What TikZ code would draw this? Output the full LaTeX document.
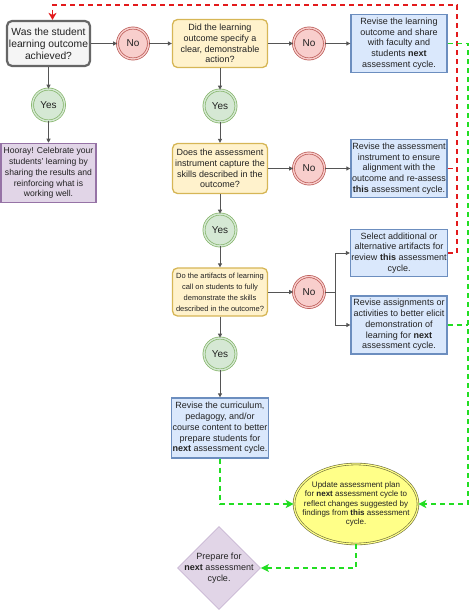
\documentclass[tikz,border=0pt]{standalone}
\usepackage{fontspec}
\setmainfont{Liberation Sans}
\usetikzlibrary{shapes.geometric,arrows.meta,calc}
\definecolor{grayF}{HTML}{F5F5F5}
\definecolor{grayS}{HTML}{666666}
\definecolor{redF}{HTML}{F8CECC}
\definecolor{redS}{HTML}{B85450}
\definecolor{yelF}{HTML}{FFF2CC}
\definecolor{yelS}{HTML}{D6B656}
\definecolor{grnF}{HTML}{D5E8D4}
\definecolor{grnS}{HTML}{82B366}
\definecolor{bluF}{HTML}{DAE8FC}
\definecolor{bluS}{HTML}{6C8EBF}
\definecolor{purF}{HTML}{E1D5E7}
\definecolor{purS}{HTML}{9673A6}
\definecolor{diaS}{HTML}{C8B6D4}
\definecolor{ellF}{HTML}{FFFF88}
\definecolor{ellS}{HTML}{6B6B3A}
\definecolor{conn}{HTML}{555555}
\definecolor{txtC}{HTML}{222222}
\definecolor{dashR}{HTML}{E31A1C}
\definecolor{dashG}{HTML}{22DD22}
\begin{document}
\begin{tikzpicture}[x=1pt,y=-1pt,
  txt/.style={align=center, inner sep=1pt, text=txtC, font=\fontsize{9}{10.8}\selectfont},
  graybox/.style={txt, rectangle, rounded corners=5pt, draw=grayS, fill=grayF, line width=2.2pt, minimum width=83pt, minimum height=45pt, font=\fontsize{10.3}{12}\selectfont},
  yelbox/.style={txt, rectangle, rounded corners=5pt, draw=yelS, fill=yelF, line width=1.3pt, minimum width=95pt, minimum height=48pt},
  blubox/.style={txt, rectangle, draw=bluS, fill=bluF, line width=1.3pt, minimum width=96pt},
  purbox/.style={txt, rectangle, draw=purS, fill=purF, line width=1.5pt, minimum width=95pt, minimum height=59pt, font=\fontsize{8.6}{10.8}\selectfont},
  nocirc/.style={circle, draw=redS, fill=redF, double=redF, double distance=1.4pt, line width=0.7pt, minimum size=31pt, inner sep=0pt, text=txtC, font=\fontsize{10}{12}\selectfont},
  yescirc/.style={circle, draw=grnS, fill=grnF, double=grnF, double distance=1.4pt, line width=0.7pt, minimum size=32pt, inner sep=0pt, text=txtC, font=\fontsize{10}{12}\selectfont},
  flow/.style={draw=conn, line width=0.9pt, -{Triangle[length=4pt,width=4pt]}},
  flowline/.style={draw=conn, line width=0.9pt},
  reddash/.style={draw=dashR, line width=1.6pt, dash pattern=on 5pt off 4pt},
  grndash/.style={draw=dashG, line width=1.6pt, dash pattern=on 5pt off 4pt},
  tipG/.style={-{Stealth[length=8pt,width=8pt,inset=2pt]}},
  tipR/.style={-{Stealth[length=7pt,width=8pt,inset=2pt]}}
]
\useasboundingbox (0,0) rectangle (474,612);

% first row
\node[graybox] (box1) at (48.5,43.5) {Was the student\\learning outcome\\achieved?};
\node[nocirc] (no1) at (133,43.5) {No};
\node[yelbox] (box2) at (220,43.5) {Did the learning\\outcome specify a\\clear, demonstrable\\action?};
\node[nocirc] (no2) at (309,43.5) {No};
\node[blubox, minimum height=58pt] (box3) at (399,43.5) {Revise the learning\\outcome and share\\with faculty and\\students \textbf{next}\\assessment cycle.};

% left column
\node[yescirc] (yes1) at (48.5,105) {Yes};
\node[purbox] (box4) at (48.5,173) {Hooray! Celebrate your\\students' learning by\\sharing the results and\\reinforcing what is\\working well.};

% middle column
\node[yescirc] (yes2) at (220,106) {Yes};
\node[yelbox, minimum height=50pt] (box5) at (220,168.5) {Does the assessment\\instrument capture the\\skills described in the\\outcome?};
\node[nocirc] (no3) at (309,168.5) {No};
\node[blubox, minimum height=58pt] (box6) at (399,168.5) {Revise the assessment\\instrument to ensure\\alignment with the\\outcome and re-assess\\\textbf{this} assessment cycle.};

\node[yescirc] (yes3) at (220,230) {Yes};
\node[yelbox, font=\fontsize{7.5}{11}\selectfont] (box7) at (220,292) {Do the artifacts of learning\\call on students to fully\\demonstrate the skills\\described in the outcome?};
\node[nocirc] (no4) at (309,292) {No};
\node[blubox, minimum height=47pt] (box8) at (399,253) {Select additional or\\alternative artifacts for\\review \textbf{this} assessment\\cycle.};
\node[blubox, minimum height=58pt] (box9) at (399,325) {Revise assignments or\\activities to better elicit\\demonstration of\\learning for \textbf{next}\\assessment cycle.};

\node[yescirc] (yes4) at (220,354) {Yes};
\node[blubox, minimum height=60pt] (box10) at (220,428) {Revise the curriculum,\\pedagogy, and/or\\course content to better\\prepare students for\\\textbf{next} assessment cycle.};

% ellipse and diamond
\node[ellipse, draw=ellS, fill=ellF, double=ellF, double distance=1.2pt, line width=0.6pt, minimum width=124pt, minimum height=80pt, inner sep=0pt,
  label={[txt, font=\fontsize{8}{9.4}\selectfont]center:Update assessment plan\\for \textbf{next} assessment cycle to\\reflect changes suggested by\\findings from \textbf{this} assessment\\cycle.}] (ell) at (356,504) {};
\node[diamond, draw=diaS, fill=purF, line width=0.8pt, minimum width=83pt, minimum height=83pt, inner sep=0pt,
  label={[txt]center:Prepare for\\\textbf{next} assessment\\cycle.}] (dia) at (219,568) {};

% solid connectors
\draw[flow] (box1) -- (no1);
\draw[flow] (no1) -- (box2);
\draw[flow] (box2) -- (no2);
\draw[flow] (no2) -- (box3);
\draw[flow] (box1) -- (yes1);
\draw[flow] (yes1) -- (box4);
\draw[flow] (box2) -- (yes2);
\draw[flow] (yes2) -- (box5);
\draw[flow] (box5) -- (no3);
\draw[flow] (no3) -- (box6);
\draw[flow] (box5) -- (yes3);
\draw[flow] (yes3) -- (box7);
\draw[flow] (box7) -- (no4);
\draw[flow] (box7) -- (yes4);
\draw[flow] (yes4) -- (box10);
\coordinate (br) at (335,292);
\draw[flowline] (no4) -- (br);
\draw[flow] (br) |- (box8.west);
\draw[flow] (br) |- (box9.west);

% red dashed return
\coordinate (rr) at (457,5);
\coordinate (b1t) at ($(box1.north)+(4,0)$);
\draw[reddash] (box6.east) -- (box6.east -| rr);
\draw[reddash, tipR] (box8.east) -| (rr) -| (b1t);

% green dashed
\coordinate (gx) at (468,504);
\draw[grndash] (box9.east) -- (box9.east -| gx);
\draw[grndash, tipG] (box3.east) -| (gx) -- (ell.east);
\draw[grndash, tipG] (box10.south) |- (ell.west);
\draw[grndash, tipG] (ell.south) |- (dia.east);
\end{tikzpicture}
\end{document}
